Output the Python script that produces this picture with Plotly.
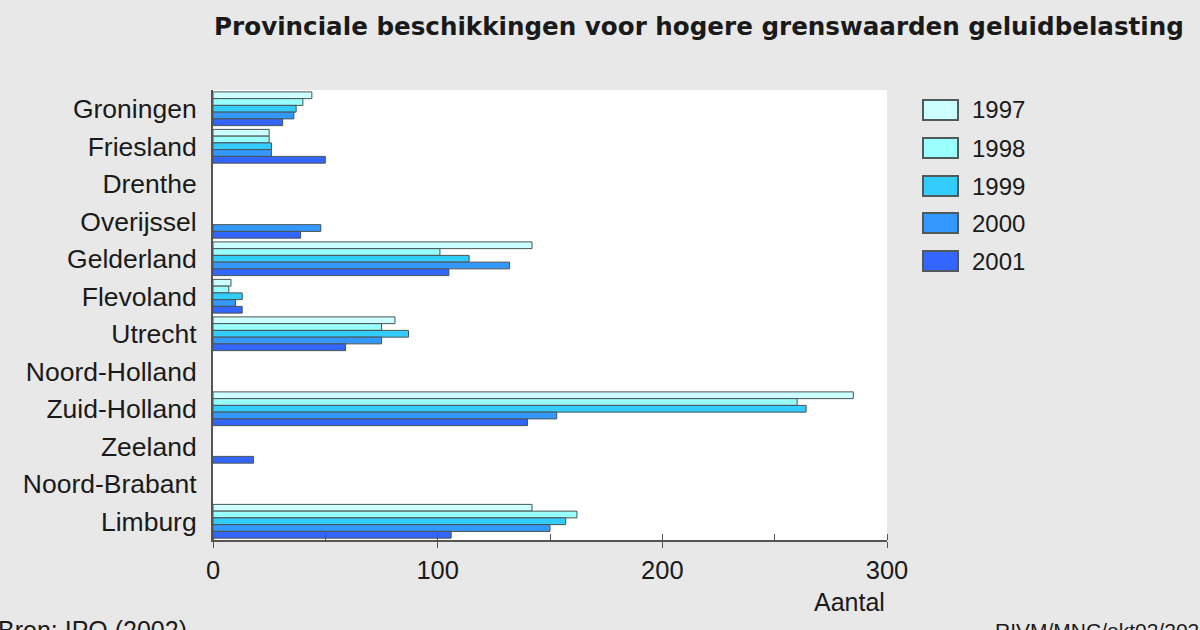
import plotly.graph_objects as go

provinces = ['Groningen', 'Friesland', 'Drenthe', 'Overijssel', 'Gelderland', 'Flevoland',
             'Utrecht', 'Noord-Holland', 'Zuid-Holland', 'Zeeland', 'Noord-Brabant', 'Limburg']
years = ['1997', '1998', '1999', '2000', '2001']

v1997 = [44, 25, 0, 0, 142, 8, 81, 0, 285, 0, 0, 142]
v1998 = [40, 25, 0, 0, 101, 7, 75, 0, 260, 0, 0, 162]
v1999 = [37, 26, 0, 0, 114, 13, 87, 0, 264, 0, 0, 157]
v2000 = [36, 26, 0, 48, 132, 10, 75, 0, 153, 0, 0, 150]
v2001 = [31, 50, 0, 39, 105, 13, 59, 0, 140, 18, 0, 106]
values = [v1997, v1998, v1999, v2000, v2001]

colors = ['#ccffff', '#99ffff', '#33ccff', '#3399ff', '#3366ff']
FONT = 'Arial, Liberation Sans, sans-serif'

# plot area in pixels: x 213..887, y 90..540
L, R, T, B = 213, 887, 90, 540
def px_x(x):
    return (x - L) / (R - L)
def px_y(y):
    return (B - y) / (B - T)

fig = go.Figure()
for yr, vals, col in zip(years, values, colors):
    fig.add_trace(go.Bar(
        y=provinces, x=[v if v else None for v in vals], name=yr, orientation='h',
        marker=dict(color=col, line=dict(color='#4a5454', width=1)),
        showlegend=False,
    ))

fig.update_layout(
    width=1200, height=630,
    paper_bgcolor='#e8e8e8', plot_bgcolor='white',
    font=dict(family=FONT, size=25, color='#1a1a1a'),
    margin=dict(l=L, r=1200 - R, t=T, b=630 - B),
    barmode='group', bargap=0.1, bargroupgap=0,
    title=dict(text='<b>Provinciale beschikkingen voor hogere grenswaarden geluidbelasting</b>',
               x=0.5825, xanchor='center', y=0.958, yanchor='middle',
               font=dict(family='DejaVu Sans, sans-serif', size=24.6, color='#1a1a1a')),
)

fig.update_xaxes(range=[0, 300], dtick=100, ticks='outside', ticklen=6, tickcolor='#555',
                 showline=True, linecolor='#555', linewidth=2, showgrid=False, zeroline=False,
                 minor=dict(dtick=50, ticks='inside', ticklen=6, tickcolor='#555', showgrid=False),
                 tickfont=dict(size=25.5))
fig.update_yaxes(autorange='reversed', showline=True, linecolor='#555', linewidth=2,
                 showgrid=False, ticks='', ticklabelstandoff=9, tickfont=dict(size=26.5))

# legend: boxes and labels
leg_y = [110, 148, 186, 223, 261]
for yr, col, yc in zip(years, colors, leg_y):
    fig.add_shape(type='rect', xref='paper', yref='paper',
                  x0=px_x(923), x1=px_x(958), y0=px_y(yc + 10), y1=px_y(yc - 10),
                  fillcolor=col, line=dict(color='#505a5a', width=2))
    fig.add_annotation(text=yr, xref='paper', yref='paper', x=px_x(970), y=px_y(yc),
                       xanchor='left', yanchor='middle', showarrow=False, font=dict(size=24))

fig.add_annotation(text='Aantal', xref='paper', yref='paper', x=1.0, y=px_y(586),
                   xanchor='right', yanchor='top', showarrow=False, font=dict(size=25))
fig.add_annotation(text='Bron: IPO (2002)', xref='paper', yref='paper', x=px_x(-4), y=px_y(614),
                   xanchor='left', yanchor='top', showarrow=False, font=dict(size=25))
fig.add_annotation(text='RIVM/MNC/okt02/2024', xref='paper', yref='paper', x=px_x(993), y=px_y(617),
                   xanchor='left', yanchor='top', showarrow=False, font=dict(size=21))

fig.write_html('out.html', config={'displayModeBar': False},
               post_script="document.body.style.margin='0';")
